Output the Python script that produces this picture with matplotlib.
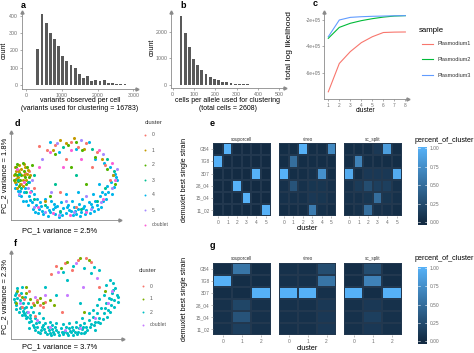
import numpy as np
import matplotlib
matplotlib.use("Agg")
from matplotlib import pyplot as plt
from matplotlib.colors import LinearSegmentedColormap

plt.rcParams["font.family"] = ["Liberation Sans", "DejaVu Sans"]

W, H = 474, 353

# ---- panel a: variants observed per cell ----
a_bins = [330, 446, 562, 678, 794, 910, 1026, 1142, 1258, 1374, 1490,
          1606, 1722, 1838, 1954, 2070, 2186, 2302, 2418, 2534, 2650, 2766]
a_counts = [210, 410, 360, 300, 265, 225, 165, 140, 118, 100, 62,
            40, 52, 22, 28, 22, 30, 12, 10, 8, 5, 3]

# ---- panel b: cells per allele ----
b_bins = [39, 58.5, 78, 97.5, 117, 136.5, 156, 175.5, 195, 214.5,
          234, 253.5, 273, 292.5, 312, 331.5, 351, 370.5, 390, 409.5]
b_counts = [2600, 1950, 1450, 980, 750, 570, 420, 315, 230, 170,
            125, 95, 75, 55, 42, 32, 25, 18, 12, 8]

# ---- panel c: total log likelihood ----
c_k = [1, 2, 3, 4, 5, 6, 7, 8]
c_samples = ["Plasmodium1", "Plasmodium2", "Plasmodium3"]
c_p1 = [-7.45e5, -5.3e5, -4.4e5, -3.72e5, -3.27e5, -2.95e5, -2.92e5, -2.91e5]
c_p2 = [-3.39e5, -2.56e5, -2.25e5, -2.05e5, -1.9e5, -1.78e5, -1.7e5, -1.67e5]
c_p3 = [-3.27e5, -2.0e5, -1.8e5, -1.75e5, -1.72e5, -1.7e5, -1.68e5, -1.67e5]

# ---- panel d: PCA, 6 clusters + doublet (approximate positions) ----
d_c0 = [(32, 80), (40, 86), (55, 90), (62, 84), (70, 88), (80, 78), (88, 62), (15, 55),
        (8, 40), (45, 30), (60, 12), (92, 45), (50, 70), (25, 85), (75, 60), (20, 35),
        (4, 47), (11, 53)]
d_c1 = [(3, 55), (5, 48), (8, 58), (2, 42), (10, 50), (6, 62), (12, 45), (4, 35), (9, 38),
        (14, 57), (45, 92), (50, 88), (58, 94), (38, 80), (68, 82), (85, 70), (95, 50),
        (30, 20), (7, 52), (11, 60), (1, 50), (5, 57), (9, 44), (13, 52), (3, 46), (7, 40),
        (2, 60), (10, 63), (16, 50), (6, 54)]
d_c2 = [(4, 50), (7, 45), (3, 60), (10, 55), (12, 40), (6, 38), (15, 48), (2, 52), (52, 86),
        (60, 90), (66, 80), (78, 72), (90, 58), (97, 40), (40, 75), (35, 25), (70, 40),
        (55, 60), (18, 62), (9, 65), (1, 45), (8, 50), (11, 48), (5, 43), (13, 60), (4, 64)]
d_c3 = [(5, 45), (8, 35), (12, 30), (20, 22), (30, 15), (45, 8), (65, 10), (80, 20),
        (88, 35), (96, 55), (90, 70), (75, 82), (48, 84), (20, 50), (60, 50), (40, 40),
        (6, 52), (14, 42)]
d_c4 = [(10, 30), (15, 25), (18, 18), (22, 15), (25, 10), (28, 8), (32, 12), (35, 6),
        (38, 10), (40, 4), (42, 14), (45, 7), (48, 11), (50, 5), (52, 15), (55, 8), (58, 12),
        (60, 4), (62, 10), (65, 7), (68, 14), (70, 9), (72, 18), (75, 12), (78, 20), (80, 15),
        (83, 25), (85, 30), (88, 28), (90, 38), (93, 42), (95, 50), (98, 48), (92, 60),
        (87, 65), (12, 20), (20, 28), (30, 22), (8, 25), (5, 32), (3, 40), (26, 18), (36, 20),
        (46, 18), (56, 20), (66, 22), (76, 28), (82, 40), (78, 70), (60, 82), (44, 78),
        (35, 90), (72, 90), (15, 42), (62, 30), (50, 28), (24, 5), (33, 2), (44, 1), (53, 9),
        (64, 2), (73, 5), (19, 10), (14, 15), (9, 20), (6, 27), (29, 4), (40, 12), (57, 3),
        (67, 11), (81, 10), (86, 20), (91, 30), (96, 36), (99, 44), (2, 35), (11, 35), (17, 32),
        (21, 7), (27, 14), (34, 9), (39, 16), (47, 3), (51, 12), (59, 8), (63, 16), (69, 4),
        (74, 16), (77, 8), (84, 12), (89, 22), (94, 28), (97, 52), (7, 31), (16, 21), (23, 22)]
d_c5 = [(20, 12), (30, 6), (44, 3), (58, 6), (74, 10), (84, 18), (94, 35), (99, 58),
        (86, 75), (65, 92), (42, 88), (28, 70), (14, 35), (6, 28), (50, 20), (36, 30),
        (70, 25), (18, 45)]
d_dbl = [(10, 42), (4, 58), (16, 30), (24, 12), (38, 5), (54, 3), (70, 6), (86, 22),
         (97, 45), (94, 65), (82, 80), (55, 80), (35, 78), (48, 60), (65, 70), (25, 60)]
d_levels = ["0", "1", "2", "3", "4", "5", "doublet"]

# ---- panel f: PCA, 3 clusters + doublet (approximate positions) ----
f_c0 = [(5, 50), (10, 45), (18, 40), (25, 38), (30, 42), (40, 85), (48, 88), (60, 92),
        (68, 95), (72, 90), (55, 80), (35, 75), (15, 55), (8, 35), (45, 30), (80, 60),
        (20, 25), (22, 44), (28, 36)]
f_c1 = [(4, 55), (8, 48), (12, 52), (16, 45), (22, 42), (28, 40), (34, 44), (38, 38),
        (50, 90), (62, 94), (70, 92), (44, 82), (3, 40), (12, 60), (85, 55), (66, 30),
        (19, 38), (25, 46)]
f_c2 = [(1, 45), (2, 50), (3, 38), (4, 58), (5, 30), (6, 44), (7, 52), (8, 26), (9, 40),
        (10, 34), (11, 48), (12, 22), (13, 30), (14, 40), (15, 18), (16, 26), (17, 35),
        (18, 14), (20, 22), (22, 12), (24, 18), (26, 8), (28, 14), (30, 6), (32, 11), (34, 4),
        (36, 9), (38, 3), (40, 8), (42, 5), (44, 10), (46, 3), (48, 7), (50, 4), (52, 10),
        (54, 5), (56, 8), (58, 12), (60, 6), (62, 14), (64, 9), (66, 16), (68, 12), (70, 20),
        (72, 15), (74, 24), (76, 18), (78, 28), (80, 22), (82, 34), (84, 28), (86, 40),
        (88, 32), (89, 46), (91, 38), (92, 52), (94, 44), (95, 58), (96, 50), (93, 64),
        (90, 68), (86, 62), (84, 50), (80, 45), (78, 38), (74, 32), (70, 28), (64, 22),
        (58, 18), (52, 16), (46, 15), (40, 16), (34, 18), (28, 22), (24, 28), (18, 30),
        (12, 36), (6, 34), (3, 52), (8, 60), (2, 42), (10, 28), (15, 10), (20, 8), (25, 4),
        (30, 16), (36, 14), (56, 2), (66, 4), (76, 8), (72, 76), (66, 82), (56, 85), (62, 40),
        (40, 50), (30, 60), (50, 68), (75, 84), (80, 80), (46, 78), (21, 16), (27, 12),
        (33, 8), (39, 12), (45, 6), (51, 2), (57, 6), (63, 4), (69, 8), (75, 14), (81, 16),
        (87, 24), (90, 30), (97, 42), (94, 36), (4, 46), (7, 36), (11, 26), (16, 22),
        (19, 11), (23, 6), (29, 9), (35, 2), (43, 2), (49, 11), (55, 12), (61, 10), (67, 6),
        (71, 11), (79, 18), (83, 21), (85, 34), (91, 45), (93, 56), (97, 48), (3, 33),
        (9, 31), (13, 24), (17, 19), (31, 3), (37, 6), (47, 5), (53, 7), (59, 3), (65, 12)]
f_dbl = [(6, 40), (14, 30), (22, 20), (34, 12), (48, 8), (62, 10), (76, 22), (88, 40),
         (92, 55), (78, 70), (58, 88), (42, 78), (30, 50), (50, 50), (65, 60), (20, 48)]
f_levels = ["0", "1", "2", "doublet"]

# ---- panels e and g: heatmaps ----
strains = ["GB4", "7G8", "3D7", "28_04", "15_04", "11_02"]
methods = ["souporcell", "vireo", "sc_split"]
e_souporcell = [[0.0, 1.0, 0.0, 0.0, 0.0, 0.0],
                [1.0, 0.0, 0.0, 0.0, 0.0, 0.0],
                [0.0, 0.0, 0.0, 0.0, 1.0, 0.0],
                [0.0, 0.0, 1.0, 0.0, 0.0, 0.0],
                [0.0, 0.0, 0.0, 1.0, 0.0, 0.0],
                [0.0, 0.0, 0.0, 0.0, 0.0, 1.0]]
e_vireo = [[0.02, 0.02, 1.0, 0.02, 0.02, 0.7],
           [0.02, 0.5, 0.02, 0.02, 0.02, 0.02],
           [1.0, 0.02, 0.02, 0.05, 0.75, 0.02],
           [0.05, 0.3, 0.05, 0.08, 0.08, 0.05],
           [0.05, 0.05, 0.05, 0.1, 0.08, 0.05],
           [0.02, 0.02, 0.02, 0.6, 0.05, 0.02]]
e_scsplit = [[0.02, 0.02, 0.02, 0.1, 0.85, 0.02],
             [0.02, 0.65, 0.02, 0.02, 0.02, 0.02],
             [0.95, 0.02, 0.1, 0.1, 0.1, 0.95],
             [0.05, 0.12, 0.25, 0.15, 0.15, 0.05],
             [0.05, 0.05, 0.08, 0.5, 0.08, 0.05],
             [0.02, 0.05, 0.5, 0.05, 0.05, 0.02]]
g_souporcell = [[0.02, 0.55, 0.02],
                [1.0, 0.02, 0.02],
                [0.02, 0.02, 1.0],
                [0.05, 0.2, 0.05],
                [0.05, 0.3, 0.05],
                [0.05, 0.15, 0.05]]
g_vireo = [[0.05, 0.05, 0.25],
           [0.05, 0.05, 0.55],
           [1.0, 1.0, 0.05],
           [0.05, 0.05, 0.1],
           [0.05, 0.05, 0.1],
           [0.05, 0.05, 0.1]]
g_scsplit = [[0.02, 0.25, 0.02],
             [0.02, 0.65, 0.02],
             [1.0, 0.02, 1.0],
             [0.05, 0.1, 0.05],
             [0.05, 0.15, 0.05],
             [0.05, 0.1, 0.05]]
cbar_ticks = [0.0, 0.25, 0.5, 0.75, 1.0]

GREY = "#8a8a8a"
TICK = "#6e6e6e"
hue7 = ["#F8766D", "#C49A00", "#53B400", "#00C094", "#00B6EB", "#A58AFF", "#FB61D7"]
hue4 = ["#F8766D", "#7CAE00", "#00BFC4", "#C77CFF"]
hue3 = ["#F8766D", "#00BA38", "#619CFF"]
heat = LinearSegmentedColormap.from_list("gg", ["#132B43", "#56B1F7"])

fig = plt.figure(figsize=(W / 100, H / 100), dpi=100)


def px_axes(l, t, r, b):
    return fig.add_axes([l / W, 1 - b / H, (r - l) / W, (b - t) / H])


def arrow_axes(ax, ticks=True):
    for s in ["top", "right"]:
        ax.spines[s].set_visible(False)
    for s in ["left", "bottom"]:
        ax.spines[s].set_color(GREY)
        ax.spines[s].set_linewidth(0.6)
    ax.plot(1, 0, ">", transform=ax.transAxes, clip_on=False, ms=2.2, color=GREY)
    ax.plot(0, 1, "^", transform=ax.transAxes, clip_on=False, ms=2.2, color=GREY)
    ax.patch.set_visible(False)
    if ticks:
        ax.tick_params(length=1.5, width=0.5, colors=GREY, labelcolor=TICK,
                       labelsize=3.8, pad=1)
    else:
        ax.set_xticks([])
        ax.set_yticks([])


# panel a
ax = px_axes(21.7, 11.7, 136.7, 89.3)
ax.bar(a_bins, a_counts, width=80, color="#595959", linewidth=0)
ax.set_xlim(-120, 3094)
ax.set_ylim(-25, 424)
ax.set_xticks([0, 1000, 2000, 3000])
ax.set_yticks([0, 100, 200, 300, 400])
arrow_axes(ax)

# panel b
ax = px_axes(170.7, 11.7, 285, 88.3)
ax.bar(b_bins, b_counts, width=13.5, color="#595959", linewidth=0)
ax.set_xlim(-9.4, 526)
ax.set_ylim(-125, 2766)
ax.set_xticks([0, 100, 200, 300, 400, 500])
ax.set_yticks([0, 1000, 2000])
arrow_axes(ax)

# panel c
ax = px_axes(324, 11.7, 408, 99.3)
for vals, col in zip([c_p1, c_p2, c_p3], hue3):
    ax.plot(c_k, vals, color=col, lw=0.8)
ax.set_xlim(0.61, 8.24)
ax.set_ylim(-8.02e5, -1.37e5)
ax.set_xticks(c_k)
ax.set_yticks([-6e5, -4e5, -2e5])
ax.set_yticklabels(["-6e+05", "-4e+05", "-2e+05"])
arrow_axes(ax)
ax.tick_params(labelsize=3.4)

# panels d and f
for box, groups, cols in [((11, 131.7, 120, 220), [d_c4, d_c0, d_c1, d_c2, d_c3, d_c5, d_dbl],
                           [hue7[4], hue7[0], hue7[1], hue7[2], hue7[3], hue7[5], hue7[6]]),
                          ((11, 251.7, 123, 339), [f_c2, f_c0, f_c1, f_dbl],
                           [hue4[2], hue4[0], hue4[1], hue4[3]])]:
    ax = px_axes(*box)
    for pts, col in zip(groups, cols):
        xy = np.array(pts)
        ax.scatter(xy[:, 0], xy[:, 1], s=5, color=col, linewidths=0)
    ax.set_xlim(-2, 102)
    ax.set_ylim(-3, 102)
    arrow_axes(ax, ticks=False)

# panels e and g
for tops, bots, data, ncol in [(143.3, 216, [e_souporcell, e_vireo, e_scsplit], 6),
                               (263, 335, [g_souporcell, g_vireo, g_scsplit], 3)]:
    lefts = [213.3, 279.3, 344.3]
    rights = [270.5, 336, 401.5]
    for i, (l, r, mat) in enumerate(zip(lefts, rights, data)):
        ax = px_axes(l, tops, r, bots)
        ax.pcolormesh(np.array(mat), cmap=heat, vmin=0, vmax=1,
                      edgecolors="#22384f", linewidth=0.25)
        ax.set_xlim(0, ncol)
        ax.set_ylim(len(strains), 0)
        ax.set_xticks(np.arange(ncol) + 0.5)
        ax.set_xticklabels([str(k) for k in range(ncol)])
        ax.set_yticks(np.arange(len(strains)) + 0.5)
        ax.set_yticklabels(strains if i == 0 else [])
        for s in ax.spines.values():
            s.set_visible(False)
        ax.tick_params(length=1.2, width=0.4, colors=GREY, labelcolor=TICK,
                       labelsize=3.5, pad=1.5)
        if i > 0:
            ax.tick_params(axis="y", length=0)
        ax.set_title(methods[i], fontsize=3.3, color="#333333", pad=2)
    # colour bar
    cax = px_axes(418, tops + 3.5, 427, bots + 9)
    grad = np.linspace(-0.04, 1.02, 200).reshape(-1, 1)
    cax.imshow(grad, cmap=heat, vmin=0, vmax=1, aspect="auto", origin="lower",
               extent=[0, 1, -0.04, 1.02])
    cax.set_xlim(0, 1)
    cax.set_ylim(-0.04, 1.02)
    for tv in cbar_ticks:
        cax.plot([0, 0.2], [tv, tv], color="white", lw=0.4)
        cax.plot([0.8, 1], [tv, tv], color="white", lw=0.4)
    cax.set_xticks([])
    cax.yaxis.tick_right()
    cax.set_yticks(cbar_ticks)
    cax.set_yticklabels(["%.2f" % t for t in cbar_ticks])
    cax.tick_params(length=0, labelsize=3.5, labelcolor=TICK, pad=2)
    for s in cax.spines.values():
        s.set_visible(False)

# overlay for text and legends, in pixel coordinates
ov = fig.add_axes([0, 0, 1, 1])
ov.set_xlim(0, W)
ov.set_ylim(H, 0)
ov.axis("off")
ov.patch.set_visible(False)

for lab, x, y in [("a", 23, 5), ("b", 183, 5), ("c", 315, 4), ("d", 17, 123),
                  ("e", 212, 124), ("f", 15, 243), ("g", 212, 246)]:
    ov.text(x, y, lab, fontsize=6.5, fontweight="bold", ha="center", va="center")

ov.text(4, 50, "count", rotation=90, fontsize=5, ha="center", va="center")
ov.text(152, 47, "count", rotation=90, fontsize=5, ha="center", va="center")
ov.text(80, 100, "variants observed per cell", fontsize=5, ha="center", va="center")
ov.text(80, 108.5, "(variants used for clustering = 16783)", fontsize=5,
        ha="center", va="center")
ov.text(228, 100, "cells per allele used for clustering", fontsize=5,
        ha="center", va="center")
ov.text(228, 108.5, "(total cells = 2608)", fontsize=5, ha="center", va="center")
ov.text(290, 45, "total log likelihood", rotation=90, fontsize=6,
        ha="center", va="center")
ov.text(366, 111, "cluster", fontsize=4.8, ha="center", va="center")

ov.text(419, 30, "sample", fontsize=5.6, ha="left", va="center")
for name, col, y in zip(c_samples, hue3, [43.7, 59.3, 75.3]):
    ov.plot([421.7, 433.3], [y, y], color=col, lw=0.8)
    ov.text(438, y, name, fontsize=4, ha="left", va="center", color="#333333")

# d / f axis titles and legends
ov.text(60, 231, "PC_1 variance = 2.5%", fontsize=5.4, ha="center", va="center")
ov.text(5, 175, "PC_2 variance = 1.8%", rotation=90, fontsize=5.4,
        ha="center", va="center")
ov.text(60, 347, "PC_1 variance = 3.7%", fontsize=5.4, ha="center", va="center")
ov.text(5, 296, "PC_2 variance = 2.3%", rotation=90, fontsize=5.4,
        ha="center", va="center")

ov.text(145, 122, "cluster", fontsize=4.3, ha="left", va="center", color="#333333")
for k, (lev, col) in enumerate(zip(d_levels, hue7)):
    y = 135 + 15 * k
    ov.plot(145, y, "o", ms=1.4, color=col, mec="none")
    ov.text(152, y, lev, fontsize=3.6, ha="left", va="center", color="#555555")

ov.text(139, 271, "cluster", fontsize=4.3, ha="left", va="center", color="#333333")
for k, (lev, col) in enumerate(zip(f_levels, hue4)):
    y = 286 + 13 * k
    ov.plot(143, y, "o", ms=1.4, color=col, mec="none")
    ov.text(150, y, lev, fontsize=3.6, ha="left", va="center", color="#555555")

# heatmap axis titles
for yc, yx in [(180, 228), (299, 348)]:
    ov.text(185, yc, "demuxlet best single strain", rotation=90, fontsize=5,
            ha="center", va="center")
    ov.text(307, yx, "cluster", fontsize=5.2, ha="center", va="center")
ov.text(415, 140, "percent_of_cluster", fontsize=5.2, ha="left", va="center")
ov.text(415, 259, "percent_of_cluster", fontsize=5.2, ha="left", va="center")

fig.savefig("out.png", dpi=100)
